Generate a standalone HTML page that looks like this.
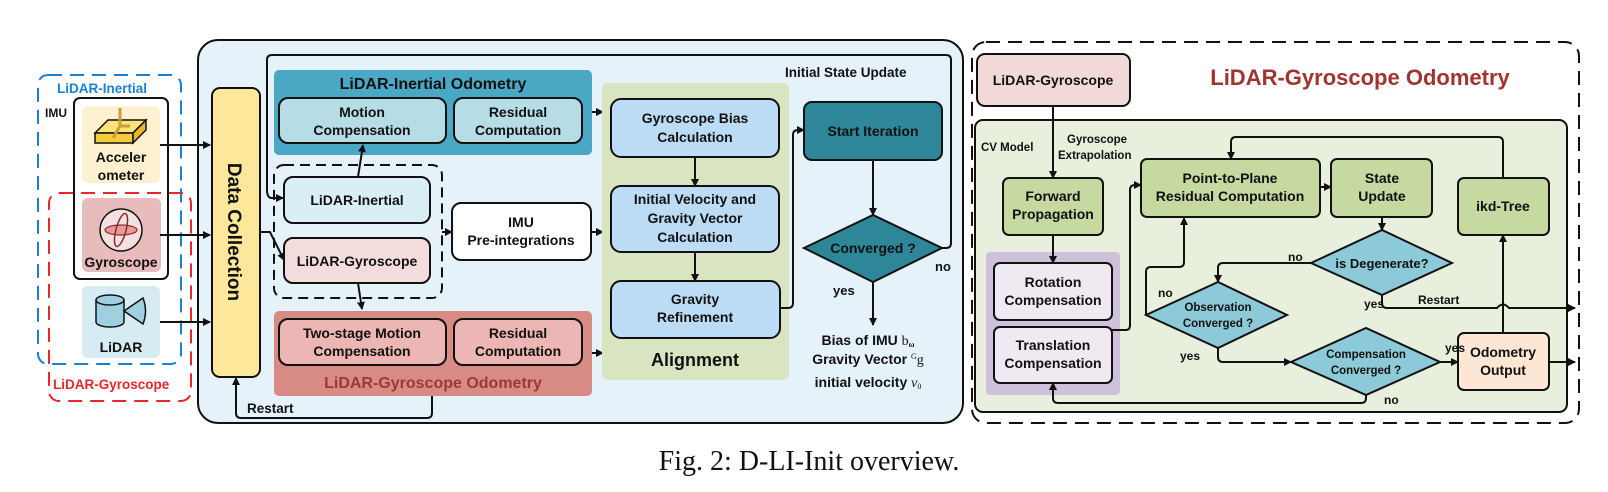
<!DOCTYPE html>
<html><head><meta charset="utf-8"><style>
html,body{margin:0;padding:0;background:#fff;}
svg{display:block;}
text{font-family:"Liberation Sans",sans-serif;font-weight:bold;fill:#111;}
</style></head><body>
<svg width="1608" height="492" viewBox="0 0 1608 492" xmlns="http://www.w3.org/2000/svg">
<defs>
<marker id="a" markerWidth="8" markerHeight="8" refX="7" refY="4" orient="auto" markerUnits="userSpaceOnUse">
<path d="M0,0 L8,4 L0,8 Z" fill="#111"/></marker>
</defs>
<g stroke="#111" stroke-width="2" fill="none">
<!-- left sensor groups -->
<rect x="38" y="75" width="143" height="289" rx="10" stroke="#1a7fd6" stroke-dasharray="14,8"/>
<rect x="49" y="193" width="142" height="208" rx="10" stroke="#e8262b" stroke-dasharray="14,8"/>
<rect x="74" y="98" width="94" height="181" rx="6"/>
</g>
<rect x="82" y="106" width="78" height="77" rx="6" fill="#fdf1cf"/>
<rect x="82" y="198" width="79" height="74" rx="6" fill="#e8bcbc"/>
<rect x="82" y="286" width="78" height="72" rx="6" fill="#d7ebf3"/>
<!-- accelerometer icon -->
<g stroke="#111" stroke-width="1.5">
<path d="M95,133 L108,120 L146,120 L133,133 Z" fill="#fde27a"/>
<path d="M95,133 L133,133 L133,143 L95,143 Z" fill="#f5cc3d"/>
<path d="M133,133 L146,120 L146,130 L133,143 Z" fill="#e8b82a"/>
</g>
<path d="M120,108 L120,126 L130,126 M120,126 L113,138" stroke="#c9a13a" stroke-width="3" fill="none"/>
<text x="121" y="162" font-size="14" text-anchor="middle">Acceler</text>
<text x="121" y="180" font-size="14" text-anchor="middle">ometer</text>
<!-- gyro icon -->
<circle cx="121" cy="230" r="21" fill="#f3e1e1" stroke="#111" stroke-width="1.5"/>
<ellipse cx="121" cy="230" rx="16" ry="5" fill="#e89a9a" stroke="#8a2a2a" stroke-width="1.2"/>
<ellipse cx="121" cy="230" rx="5" ry="17" fill="none" stroke="#8a2a2a" stroke-width="1.5" transform="rotate(15 121 230)"/>
<text x="121" y="267" font-size="14" text-anchor="middle">Gyroscope</text>
<!-- lidar icon -->
<g stroke="#111" stroke-width="1.5" fill="#9fd0e0">
<path d="M96,300 L96,322 A14,5 0 0 0 124,322 L124,300"/>
<ellipse cx="110" cy="300" rx="14" ry="5"/>
<path d="M124,311 L143,298 Q148,311 143,324 Z"/>
</g>
<text x="121" y="352" font-size="14" text-anchor="middle">LiDAR</text>
<text x="57" y="93" font-size="13.5" fill="#1a7fd6" style="fill:#1a7fd6">LiDAR-Inertial</text>
<text x="45" y="117" font-size="12">IMU</text>
<text x="53" y="389" font-size="13.5" style="fill:#e8262b">LiDAR-Gyroscope</text>

<!-- main panel -->
<rect x="198" y="40" width="765" height="383" rx="20" fill="#e6f2fa" stroke="#111" stroke-width="2"/>
<g stroke="#111" stroke-width="2" fill="none">
<line x1="160" y1="145" x2="210" y2="145" marker-end="url(#a)"/>
<line x1="160" y1="235" x2="210" y2="235" marker-end="url(#a)"/>
<line x1="160" y1="322" x2="210" y2="322" marker-end="url(#a)"/>
</g>
<rect x="212" y="88" width="48" height="289" rx="8" fill="#fde79a" stroke="#111" stroke-width="2"/>
<text transform="translate(228,232) rotate(90)" font-size="19" text-anchor="middle">Data Collection</text>
<!-- ISU -->
<g stroke="#111" stroke-width="2" fill="none">
<path d="M283,198 L272,198 Q267,198 267,190 L267,60 Q267,55 272,55 L946,55 Q951,55 951,60 L951,243 Q951,248 946,248 L942,248"/>
<line x1="270" y1="198" x2="283" y2="198" marker-end="url(#a)"/>
<path d="M260,232 L270,232 L284,260" marker-end="url(#a)"/>
<path d="M432,396 L432,413 Q432,418 427,418 L241,418 Q236,418 236,413 L236,378" marker-end="url(#a)"/>
</g>
<text x="785" y="77" font-size="13.5">Initial State Update</text>
<text x="247" y="413" font-size="13.5">Restart</text>
<!-- LIO -->
<rect x="274" y="70" width="318" height="85" rx="5" fill="#4aa8c4"/>
<text x="433" y="89" font-size="16" text-anchor="middle">LiDAR-Inertial Odometry</text>
<rect x="279" y="98" width="167" height="45" rx="9" fill="#b6dce6" stroke="#111" stroke-width="2"/>
<rect x="454" y="98" width="128" height="45" rx="9" fill="#b6dce6" stroke="#111" stroke-width="2"/>
<text x="362" y="117" font-size="14" text-anchor="middle">Motion</text>
<text x="362" y="135" font-size="14" text-anchor="middle">Compensation</text>
<text x="518" y="117" font-size="14" text-anchor="middle">Residual</text>
<text x="518" y="135" font-size="14" text-anchor="middle">Computation</text>
<!-- dashed group -->
<rect x="274" y="165" width="168" height="133" rx="10" fill="none" stroke="#111" stroke-width="2" stroke-dasharray="10,6"/>
<rect x="284" y="177" width="146" height="46" rx="9" fill="#d9eef5" stroke="#111" stroke-width="2"/>
<text x="357" y="205" font-size="14" text-anchor="middle">LiDAR-Inertial</text>
<rect x="284" y="238" width="146" height="45" rx="9" fill="#f5dcdc" stroke="#111" stroke-width="2"/>
<text x="357" y="266" font-size="14" text-anchor="middle">LiDAR-Gyroscope</text>
<g stroke="#111" stroke-width="2" fill="none">
<line x1="358" y1="177" x2="363" y2="145" marker-end="url(#a)"/>
<line x1="358" y1="283" x2="362" y2="309" marker-end="url(#a)"/>
<line x1="442" y1="232" x2="452" y2="232" marker-end="url(#a)"/>
</g>
<rect x="452" y="203" width="139" height="57" rx="9" fill="#fff" stroke="#111" stroke-width="2"/>
<text x="521" y="227" font-size="14" text-anchor="middle">IMU</text>
<text x="521" y="245" font-size="14" text-anchor="middle">Pre-integrations</text>
<!-- LGO -->
<rect x="274" y="311" width="318" height="85" rx="5" fill="#d88a85"/>
<rect x="279" y="319" width="167" height="46" rx="9" fill="#ebb6b3" stroke="#111" stroke-width="2"/>
<rect x="454" y="319" width="128" height="46" rx="9" fill="#ebb6b3" stroke="#111" stroke-width="2"/>
<text x="362" y="338" font-size="14" text-anchor="middle">Two-stage Motion</text>
<text x="362" y="356" font-size="14" text-anchor="middle">Compensation</text>
<text x="518" y="338" font-size="14" text-anchor="middle">Residual</text>
<text x="518" y="356" font-size="14" text-anchor="middle">Computation</text>
<text x="433" y="388" font-size="16" text-anchor="middle" style="fill:#9b3a35">LiDAR-Gyroscope Odometry</text>
<g stroke="#111" stroke-width="2" fill="none">
<line x1="592" y1="112" x2="603" y2="112" marker-end="url(#a)"/>
<line x1="591" y1="232" x2="603" y2="232" marker-end="url(#a)"/>
<line x1="592" y1="353" x2="603" y2="353" marker-end="url(#a)"/>
</g>
<!-- Alignment -->
<rect x="602" y="83" width="187" height="297" rx="6" fill="#d9e4c0"/>
<rect x="611" y="99" width="168" height="58" rx="10" fill="#bcdcf5" stroke="#111" stroke-width="2"/>
<text x="695" y="123" font-size="14" text-anchor="middle">Gyroscope Bias</text>
<text x="695" y="142" font-size="14" text-anchor="middle">Calculation</text>
<rect x="611" y="186" width="168" height="66" rx="10" fill="#bcdcf5" stroke="#111" stroke-width="2"/>
<text x="695" y="204" font-size="14" text-anchor="middle">Initial Velocity and</text>
<text x="695" y="223" font-size="14" text-anchor="middle">Gravity Vector</text>
<text x="695" y="242" font-size="14" text-anchor="middle">Calculation</text>
<rect x="611" y="281" width="169" height="57" rx="10" fill="#bcdcf5" stroke="#111" stroke-width="2"/>
<text x="695" y="304" font-size="14" text-anchor="middle">Gravity</text>
<text x="695" y="322" font-size="14" text-anchor="middle">Refinement</text>
<text x="695" y="366" font-size="18" text-anchor="middle">Alignment</text>
<g stroke="#111" stroke-width="2" fill="none">
<line x1="695" y1="157" x2="695" y2="186" marker-end="url(#a)"/>
<line x1="695" y1="252" x2="695" y2="281" marker-end="url(#a)"/>
<path d="M780,308 L788,308 Q793,308 793,303 L793,135 Q793,130 798,130 L804,130" marker-end="url(#a)"/>
<line x1="873" y1="160" x2="873" y2="215" marker-end="url(#a)"/>
<line x1="873" y1="282" x2="873" y2="325" marker-end="url(#a)"/>
</g>
<rect x="804" y="102" width="138" height="58" rx="8" fill="#2e8799" stroke="#111" stroke-width="2"/>
<text x="873" y="136" font-size="14" text-anchor="middle">Start Iteration</text>
<path d="M804,248 L873,215 L942,248 L873,282 Z" fill="#2e8799" stroke="#111" stroke-width="2"/>
<text x="873" y="253" font-size="14" text-anchor="middle">Converged ?</text>
<text x="935" y="271" font-size="13">no</text>
<text x="833" y="295" font-size="13">yes</text>
<text x="868" y="345" font-size="14" text-anchor="middle">Bias of IMU <tspan font-family="Liberation Serif" font-weight="normal">b</tspan><tspan font-size="8" font-family="Liberation Serif" dy="2">ω</tspan></text>
<text x="868" y="364" font-size="14" text-anchor="middle">Gravity Vector <tspan font-size="8" font-family="Liberation Serif" font-weight="normal" dy="-5">G</tspan><tspan font-family="Liberation Serif" font-weight="normal" dy="5">g</tspan></text>
<text x="868" y="387" font-size="14" text-anchor="middle">initial velocity <tspan font-family="Liberation Serif" font-style="italic" font-weight="normal">v</tspan><tspan font-size="8" font-family="Liberation Serif" font-weight="normal" dy="2">0</tspan></text>

<!-- right panel -->
<rect x="972" y="42" width="607" height="381" rx="14" fill="none" stroke="#111" stroke-width="2" stroke-dasharray="14,8"/>
<rect x="977" y="54" width="153" height="52" rx="8" fill="#f2d9d7" stroke="#111" stroke-width="2"/>
<text x="1053" y="85" font-size="14" text-anchor="middle">LiDAR-Gyroscope</text>
<text x="1360" y="85" font-size="22" text-anchor="middle" style="fill:#a0352f">LiDAR-Gyroscope Odometry</text>
<rect x="975" y="120" width="592" height="292" rx="8" fill="#e8efdc" stroke="#111" stroke-width="2"/>
<text x="981" y="151" font-size="11.5">CV Model</text>
<text x="1067" y="143" font-size="11.5">Gyroscope</text>
<text x="1058" y="159" font-size="11.5">Extrapolation</text>
<rect x="986" y="252" width="134" height="143" rx="4" fill="#cfc0db"/>
<rect x="1003" y="178" width="100" height="57" rx="6" fill="#c5d9a0" stroke="#111" stroke-width="2"/>
<text x="1053" y="201" font-size="14" text-anchor="middle">Forward</text>
<text x="1053" y="219" font-size="14" text-anchor="middle">Propagation</text>
<rect x="994" y="263" width="118" height="57" rx="6" fill="#efe9f2" stroke="#111" stroke-width="2"/>
<text x="1053" y="287" font-size="14" text-anchor="middle">Rotation</text>
<text x="1053" y="305" font-size="14" text-anchor="middle">Compensation</text>
<rect x="994" y="327" width="118" height="56" rx="6" fill="#efe9f2" stroke="#111" stroke-width="2"/>
<text x="1053" y="350" font-size="14" text-anchor="middle">Translation</text>
<text x="1053" y="368" font-size="14" text-anchor="middle">Compensation</text>
<rect x="1141" y="159" width="179" height="58" rx="6" fill="#c5d9a0" stroke="#111" stroke-width="2"/>
<text x="1230" y="183" font-size="14" text-anchor="middle">Point-to-Plane</text>
<text x="1230" y="201" font-size="14" text-anchor="middle">Residual Computation</text>
<rect x="1331" y="159" width="101" height="58" rx="6" fill="#c5d9a0" stroke="#111" stroke-width="2"/>
<text x="1382" y="183" font-size="14" text-anchor="middle">State</text>
<text x="1382" y="201" font-size="14" text-anchor="middle">Update</text>
<rect x="1458" y="178" width="91" height="57" rx="6" fill="#c5d9a0" stroke="#111" stroke-width="2"/>
<text x="1503" y="211" font-size="14" text-anchor="middle">ikd-Tree</text>
<rect x="1458" y="333" width="91" height="57" rx="6" fill="#fde6d3" stroke="#111" stroke-width="2"/>
<text x="1503" y="357" font-size="14" text-anchor="middle">Odometry</text>
<text x="1503" y="375" font-size="14" text-anchor="middle">Output</text>
<path d="M1311,263 L1382,230 L1452,263 L1382,295 Z" fill="#8ccad9" stroke="#111" stroke-width="2"/>
<text x="1382" y="268" font-size="13" text-anchor="middle">is Degenerate?</text>
<path d="M1146,315 L1218,282 L1287,315 L1218,348 Z" fill="#8ccad9" stroke="#111" stroke-width="2"/>
<text x="1218" y="311" font-size="11.5" text-anchor="middle">Observation</text>
<text x="1218" y="327" font-size="11.5" text-anchor="middle">Converged ?</text>
<path d="M1291,362 L1366,328 L1440,362 L1366,395 Z" fill="#8ccad9" stroke="#111" stroke-width="2"/>
<text x="1366" y="358" font-size="11.5" text-anchor="middle">Compensation</text>
<text x="1366" y="374" font-size="11.5" text-anchor="middle">Converged ?</text>
<g stroke="#111" stroke-width="2" fill="none">
<line x1="1053" y1="106" x2="1053" y2="178" marker-end="url(#a)"/>
<line x1="1053" y1="235" x2="1053" y2="263" marker-end="url(#a)"/>
<path d="M1112,330 L1126,330 Q1130,330 1130,325 L1130,190 Q1130,185 1135,185 L1141,185" marker-end="url(#a)"/>
<line x1="1320" y1="187" x2="1331" y2="187" marker-end="url(#a)"/>
<path d="M1503,178 L1503,142 Q1503,137 1498,137 L1236,137 Q1231,137 1231,142 L1231,159" marker-end="url(#a)"/>
<line x1="1382" y1="217" x2="1382" y2="230" marker-end="url(#a)"/>
<path d="M1311,263 L1223,263 Q1218,263 1218,268 L1218,282" marker-end="url(#a)"/>
<path d="M1382,295 L1382,303 Q1382,308 1387,308 L1497,308 Q1503,301 1509,308 L1575,308" marker-end="url(#a)"/>
<path d="M1146,315 L1146,272 Q1146,267 1151,267 L1179,267 Q1184,267 1184,262 L1184,218" marker-end="url(#a)"/>
<path d="M1218,348 L1218,357 Q1218,362 1223,362 L1291,362" marker-end="url(#a)"/>
<line x1="1440" y1="362" x2="1458" y2="362" marker-end="url(#a)"/>
<line x1="1549" y1="362" x2="1575" y2="362" marker-end="url(#a)"/>
<line x1="1503" y1="333" x2="1503" y2="235" marker-end="url(#a)"/>
<path d="M1366,395 L1366,398 Q1366,403 1361,403 L1058,403 Q1053,403 1053,398 L1053,383" marker-end="url(#a)"/>
</g>
<text x="1288" y="261" font-size="12">no</text>
<text x="1364" y="308" font-size="12">yes</text>
<text x="1418" y="304" font-size="12">Restart</text>
<text x="1158" y="297" font-size="12">no</text>
<text x="1180" y="360" font-size="12">yes</text>
<text x="1445" y="352" font-size="12">yes</text>
<text x="1384" y="404" font-size="12">no</text>

<text x="809" y="470" font-size="28" text-anchor="middle" style="font-family:'Liberation Serif',serif;font-weight:normal">Fig. 2: D-LI-Init overview.</text>
</svg>
</body></html>
